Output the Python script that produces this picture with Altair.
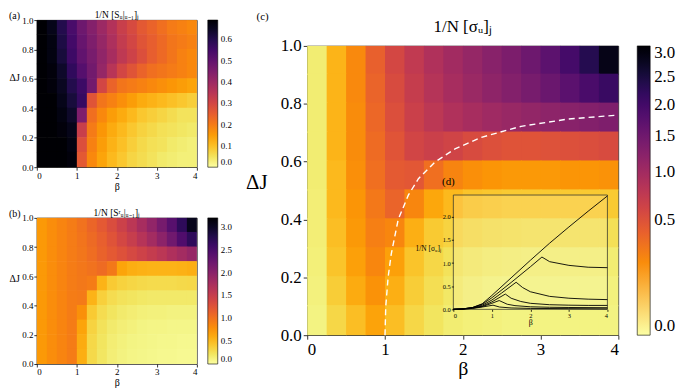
import altair as alt
import pandas as pd

FONT = "Liberation Serif"

# ---------------- data ----------------
BETA_EDGES = [0.0, 0.25, 0.5, 0.75, 1.0, 1.25, 1.5, 1.75, 2.0, 2.25, 2.5, 2.75, 3.0, 3.25, 3.5, 3.75, 4.0]
DJ_EDGES = [0.0, 0.1, 0.2, 0.3, 0.4, 0.5, 0.6, 0.7, 0.8, 0.9, 1.0]

# rows listed from top (ΔJ 0.9-1.0) to bottom (ΔJ 0.0-0.1)
S_A = [
    [0.69, 0.66, 0.60, 0.54, 0.48, 0.44, 0.40, 0.36, 0.32, 0.29, 0.26, 0.24, 0.22, 0.20, 0.19, 0.18],
    [0.69, 0.67, 0.61, 0.55, 0.49, 0.45, 0.41, 0.37, 0.33, 0.30, 0.27, 0.25, 0.23, 0.21, 0.20, 0.19],
    [0.69, 0.67, 0.62, 0.56, 0.50, 0.46, 0.42, 0.38, 0.34, 0.31, 0.28, 0.25, 0.23, 0.21, 0.19, 0.18],
    [0.69, 0.68, 0.64, 0.58, 0.52, 0.47, 0.41, 0.35, 0.30, 0.27, 0.24, 0.22, 0.21, 0.20, 0.19, 0.18],
    [0.69, 0.68, 0.65, 0.60, 0.56, 0.47, 0.30, 0.24, 0.21, 0.20, 0.19, 0.18, 0.17, 0.16, 0.15, 0.14],
    [0.69, 0.69, 0.66, 0.62, 0.57, 0.27, 0.21, 0.19, 0.17, 0.15, 0.13, 0.12, 0.11, 0.10, 0.09, 0.08],
    [0.69, 0.69, 0.67, 0.64, 0.45, 0.22, 0.18, 0.15, 0.13, 0.11, 0.09, 0.08, 0.07, 0.06, 0.05, 0.05],
    [0.69, 0.69, 0.68, 0.66, 0.32, 0.20, 0.16, 0.13, 0.11, 0.09, 0.075, 0.065, 0.055, 0.05, 0.045, 0.04],
    [0.69, 0.69, 0.69, 0.67, 0.28, 0.19, 0.15, 0.12, 0.10, 0.08, 0.065, 0.055, 0.05, 0.04, 0.035, 0.03],
    [0.69, 0.69, 0.69, 0.68, 0.26, 0.18, 0.14, 0.11, 0.09, 0.07, 0.06, 0.05, 0.04, 0.035, 0.03, 0.03],
]

S_B = [
    [0.72, 0.80, 0.86, 0.92, 1.00, 1.10, 1.20, 1.32, 1.45, 1.60, 1.76, 1.94, 2.15, 2.40, 2.70, 3.05],
    [0.72, 0.80, 0.86, 0.92, 0.98, 1.06, 1.15, 1.26, 1.38, 1.50, 1.64, 1.80, 1.98, 2.20, 2.45, 2.70],
    [0.72, 0.80, 0.86, 0.92, 0.97, 1.04, 1.12, 1.20, 1.28, 1.36, 1.44, 1.52, 1.60, 1.70, 1.80, 1.90],
    [0.72, 0.80, 0.86, 0.92, 0.96, 1.00, 1.05, 0.95, 0.65, 0.58, 0.56, 0.55, 0.55, 0.55, 0.56, 0.58],
    [0.72, 0.80, 0.86, 0.92, 0.95, 0.92, 0.55, 0.40, 0.35, 0.32, 0.30, 0.29, 0.29, 0.29, 0.30, 0.31],
    [0.72, 0.80, 0.86, 0.92, 0.94, 0.55, 0.36, 0.28, 0.24, 0.22, 0.20, 0.19, 0.19, 0.19, 0.19, 0.19],
    [0.72, 0.80, 0.86, 0.92, 0.78, 0.40, 0.28, 0.22, 0.18, 0.16, 0.14, 0.13, 0.13, 0.12, 0.12, 0.12],
    [0.72, 0.80, 0.86, 0.92, 0.65, 0.34, 0.24, 0.18, 0.15, 0.13, 0.11, 0.10, 0.10, 0.09, 0.09, 0.09],
    [0.72, 0.80, 0.86, 0.92, 0.60, 0.31, 0.22, 0.16, 0.13, 0.11, 0.10, 0.09, 0.08, 0.08, 0.07, 0.07],
    [0.72, 0.80, 0.86, 0.92, 0.58, 0.30, 0.21, 0.15, 0.12, 0.10, 0.09, 0.08, 0.07, 0.07, 0.06, 0.06],
]

SIGMA_C = [
    [0.008, 0.09, 0.21, 0.40, 0.58, 0.74, 0.88, 1.00, 1.12, 1.24, 1.36, 1.52, 1.70, 1.98, 2.35, 2.90],
    [0.008, 0.09, 0.21, 0.38, 0.55, 0.70, 0.84, 0.96, 1.07, 1.18, 1.29, 1.41, 1.55, 1.72, 1.92, 2.12],
    [0.008, 0.09, 0.20, 0.36, 0.52, 0.66, 0.78, 0.88, 0.96, 1.03, 1.09, 1.14, 1.19, 1.24, 1.29, 1.34],
    [0.008, 0.09, 0.20, 0.34, 0.48, 0.60, 0.66, 0.62, 0.55, 0.51, 0.49, 0.49, 0.50, 0.51, 0.53, 0.55],
    [0.008, 0.08, 0.19, 0.32, 0.44, 0.46, 0.32, 0.23, 0.19, 0.17, 0.16, 0.16, 0.16, 0.17, 0.17, 0.18],
    [0.007, 0.08, 0.17, 0.28, 0.38, 0.22, 0.12, 0.08, 0.06, 0.055, 0.05, 0.05, 0.05, 0.05, 0.05, 0.05],
    [0.007, 0.07, 0.16, 0.25, 0.22, 0.10, 0.05, 0.035, 0.028, 0.024, 0.022, 0.02, 0.02, 0.02, 0.02, 0.02],
    [0.006, 0.06, 0.14, 0.22, 0.14, 0.06, 0.03, 0.018, 0.013, 0.01, 0.009, 0.008, 0.008, 0.008, 0.008, 0.008],
    [0.005, 0.045, 0.11, 0.18, 0.10, 0.045, 0.022, 0.012, 0.008, 0.006, 0.005, 0.005, 0.005, 0.005, 0.005, 0.005],
    [0.004, 0.03, 0.07, 0.13, 0.07, 0.03, 0.015, 0.008, 0.006, 0.005, 0.004, 0.004, 0.004, 0.004, 0.004, 0.004],
]

# dashed transition line in (c)
BOUNDARY_BETA = [1.0, 1.01, 1.04, 1.08, 1.17, 1.30, 1.43, 1.64, 1.90, 2.24, 2.75, 3.35, 3.95]
BOUNDARY_DJ = [0.0, 0.10, 0.20, 0.28, 0.40, 0.484, 0.541, 0.598, 0.644, 0.684, 0.722, 0.747, 0.760]

# inset (d) curves
INSET_B1 = [0, 0.25, 0.5, 0.75, 1.0, 1.5, 2.0, 2.5, 3.0, 3.5, 4.0]
INSET_S1 = [0, 0.01, 0.04, 0.12, 0.30, 0.68, 1.06, 1.43, 1.78, 2.12, 2.45]
INSET_B2 = [0, 0.25, 0.5, 0.75, 1.0, 1.5, 2.0, 2.3, 2.5, 3.0, 3.5, 4.0]
INSET_S2 = [0, 0.01, 0.04, 0.11, 0.25, 0.58, 0.92, 1.13, 1.03, 0.95, 0.91, 0.90]
INSET_B3 = [0, 0.25, 0.5, 0.75, 1.0, 1.25, 1.63, 1.8, 2.0, 2.5, 3.0, 3.5, 4.0]
INSET_S3 = [0, 0.01, 0.035, 0.09, 0.20, 0.35, 0.585, 0.47, 0.38, 0.28, 0.24, 0.22, 0.21]
INSET_B4 = [0, 0.25, 0.5, 0.75, 1.0, 1.35, 1.5, 1.75, 2.0, 2.5, 3.0, 3.5, 4.0]
INSET_S4 = [0, 0.01, 0.03, 0.07, 0.16, 0.33, 0.24, 0.17, 0.13, 0.10, 0.09, 0.085, 0.085]
INSET_B5 = [0, 0.25, 0.5, 0.75, 1.0, 1.19, 1.4, 1.6, 2.0, 2.5, 3.0, 4.0]
INSET_S5 = [0, 0.005, 0.025, 0.06, 0.13, 0.19, 0.11, 0.08, 0.055, 0.045, 0.04, 0.035]
INSET_B6 = [0, 0.25, 0.5, 0.75, 1.03, 1.2, 1.5, 2.0, 3.0, 4.0]
INSET_S6 = [0, 0.004, 0.02, 0.05, 0.09, 0.05, 0.03, 0.02, 0.015, 0.01]

X_TICKS = [0, 1, 2, 3, 4]
Y_TICKS = [0.0, 0.2, 0.4, 0.6, 0.8, 1.0]
CB_A_TICKS = [0.0, 0.1, 0.2, 0.3, 0.4, 0.5, 0.6]
CB_B_TICKS = [0.0, 0.5, 1.0, 1.5, 2.0, 2.5, 3.0]
CB_C_TICKS = [0.0, 0.5, 1.0, 1.5, 2.0, 2.5, 3.0]
INSET_Y_TICKS = [0.0, 0.5, 1.0, 1.5, 2.0]

TITLE_A = "1/N [Sᵤ|ᵤ₋₁]ⱼ"
TITLE_B = "1/N [Sʳᵤ|ᵤ₋₁]ⱼ"
TITLE_C = "1/N [σᵤ]ⱼ"
TITLE_D = "1/N [σᵤ]ⱼ"

# tiny cell overlap (in data units) so neighbouring cells leave no anti-aliasing seams
PAD_B, PAD_J = 0.012, 0.004


# ---------------- helpers ----------------
def grid_df(rows):
    n = len(rows)
    recs = []
    for r, row in enumerate(rows):
        lo, hi = DJ_EDGES[n - 1 - r], DJ_EDGES[n - r]
        for c, v in enumerate(row):
            recs.append({"b0": BETA_EDGES[c], "b1": min(BETA_EDGES[c + 1] + PAD_B, 4.0),
                         "j0": lo, "j1": min(hi + PAD_J, 1.0), "v": v})
    return pd.DataFrame(recs)


def text_layer(txt, x, y, size, align="left", baseline="top"):
    return alt.Chart(pd.DataFrame({"t": [txt]})).mark_text(
        font=FONT, fontSize=size, align=align, baseline=baseline, color="black"
    ).encode(x=alt.value(x), y=alt.value(y), text="t:N")


XS = alt.Scale(domain=[0, 4], nice=False, zero=False)
YS = alt.Scale(domain=[0, 1], nice=False, zero=False)


def small_panel(rows, cscale, ticks, label, title, width, height, dj_y):
    xaxis = alt.Axis(title="β", values=X_TICKS, format="d", labelFontSize=9, titleFontSize=10,
                     tickSize=3, labelPadding=1, titlePadding=1)
    yaxis = alt.Axis(title="ΔJ", values=Y_TICKS, format=".1f", labelFontSize=9, titleFontSize=10,
                     tickSize=3, labelPadding=1, titleAngle=0, titleAlign="left",
                     titleBaseline="middle", titleX=-28, titleY=dj_y)
    legend = alt.Legend(title=None, orient="right", offset=11, gradientLength=height,
                        gradientThickness=10, values=ticks, format=".1f", labelFontSize=9,
                        labelOffset=3, gradientStrokeColor="black", gradientStrokeWidth=0.6,
                        labelOverlap=False, labelBaseline="middle", type="gradient")
    heat = alt.Chart(grid_df(rows)).mark_rect().encode(
        x=alt.X("b0:Q", scale=XS, axis=xaxis), x2="b1:Q",
        y=alt.Y("j0:Q", scale=YS, axis=yaxis), y2="j1:Q",
        color=alt.Color("v:Q", scale=cscale, legend=legend),
    )
    return alt.layer(
        heat,
        text_layer(label, -28, -9, 10),
        text_layer(title, width / 2, -5, 9.5, align="center", baseline="middle"),
    ).properties(width=width, height=height)


scale_a = alt.Scale(scheme="inferno", reverse=True, domain=[0, 0.69])
scale_b = alt.Scale(scheme="inferno", reverse=True, domain=[0, 3.2])
scale_c = alt.Scale(type="sqrt", scheme="inferno", reverse=True, domain=[0, 3.15])

panel_a = small_panel(S_A, scale_a, CB_A_TICKS, "(a)", TITLE_A, 161, 148, 58)
panel_b = small_panel(S_B, scale_b, CB_B_TICKS, "(b)", TITLE_B, 161, 147, 61)

# ---------------- panel (c) ----------------
CW, CH = 313, 291
c_xaxis = alt.Axis(title="β", values=X_TICKS, format="d", labelFontSize=17, titleFontSize=20,
                   tickSize=4, labelPadding=2, titlePadding=2)
c_yaxis = alt.Axis(title="ΔJ", values=Y_TICKS, format=".1f", labelFontSize=17, titleFontSize=21,
                   tickSize=4, labelPadding=2, titleAngle=0, titleAlign="left",
                   titleBaseline="middle", titleX=-62, titleY=137)
c_legend = alt.Legend(title=None, orient="right", offset=19, gradientLength=CH,
                      gradientThickness=13, values=CB_C_TICKS, format=".1f", labelFontSize=17,
                      labelOffset=4, gradientStrokeColor="black", gradientStrokeWidth=0.6,
                      labelOverlap=False, labelBaseline="middle", type="gradient")

heat_c = alt.Chart(grid_df(SIGMA_C)).mark_rect().encode(
    x=alt.X("b0:Q", scale=XS, axis=c_xaxis), x2="b1:Q",
    y=alt.Y("j0:Q", scale=YS, axis=c_yaxis), y2="j1:Q",
    color=alt.Color("v:Q", scale=scale_c, legend=c_legend),
)
boundary = alt.Chart(pd.DataFrame({"b": BOUNDARY_BETA, "j": BOUNDARY_DJ})).mark_line(
    color="white", strokeDash=[6, 4], strokeWidth=1.4
).encode(
    x=alt.X("b:Q", scale=XS, axis=c_xaxis),
    y=alt.Y("j:Q", scale=YS, axis=c_yaxis),
    order=alt.Order("b:Q"),
)

main_c = alt.layer(
    heat_c,
    boundary,
    text_layer("(c)", -51, -35, 11),
    text_layer(TITLE_C, CW / 2, -19, 17, align="center", baseline="middle"),
    text_layer("(d)", 142, 137, 11, align="center", baseline="middle"),
)

# inset
IX = alt.Scale(domain=[0, 4], range=[147, 302], nice=False, zero=False)
IY = alt.Scale(domain=[0, 2.47], range=[265, 150], nice=False, zero=False)
i_xaxis = alt.Axis(orient="bottom", offset=-26, title="β", values=X_TICKS, format="d",
                   labelFontSize=6.5, titleFontSize=8, tickSize=2, labelPadding=1, titlePadding=0,
                   zindex=2)
i_yaxis = alt.Axis(orient="left", offset=-147, title=TITLE_D, values=INSET_Y_TICKS, format=".1f",
                   labelFontSize=6.5, titleFontSize=7.5, tickSize=2, labelPadding=1,
                   titleAngle=0, titleAlign="right", titleBaseline="middle", titleX=-13, titleY=204,
                   zindex=2)

inset_recs = []
for k, (bs, ss) in enumerate([(INSET_B1, INSET_S1), (INSET_B2, INSET_S2), (INSET_B3, INSET_S3),
                              (INSET_B4, INSET_S4), (INSET_B5, INSET_S5), (INSET_B6, INSET_S6)]):
    for i, (bv, sv) in enumerate(zip(bs, ss)):
        inset_recs.append({"ib": bv, "isg": sv, "series": k, "o": i})
inset_df = pd.DataFrame(inset_recs)

frame = alt.Chart(pd.DataFrame({"x0": [0], "x1": [4], "y0": [0], "y1": [2.47]})).mark_rect(
    fill="white", fillOpacity=0.15, stroke="#3b3b2e", strokeWidth=0.8
).encode(
    x=alt.X("x0:Q", scale=IX, axis=i_xaxis), x2="x1:Q",
    y=alt.Y("y0:Q", scale=IY, axis=i_yaxis), y2="y1:Q",
)
inset_lines = alt.Chart(inset_df).mark_line(color="black", strokeWidth=0.9).encode(
    x=alt.X("ib:Q", scale=IX, axis=i_xaxis),
    y=alt.Y("isg:Q", scale=IY, axis=i_yaxis),
    detail="series:N",
    order=alt.Order("o:Q"),
)
inset = alt.layer(frame, inset_lines)

panel_c = alt.layer(main_c, inset).resolve_scale(x="independent", y="independent").properties(
    width=CW, height=CH
)

spacer = alt.Chart(pd.DataFrame({"s": [0]})).mark_point(opacity=0).encode(
    x=alt.value(0), y=alt.value(0)
).properties(width=CW, height=1, view=alt.ViewBackground(stroke=None))

left = alt.vconcat(panel_a, panel_b, spacing=51, bounds="flush").resolve_scale(color="independent")
right = alt.vconcat(spacer, panel_c, spacing=25, bounds="flush").resolve_scale(color="independent")
chart = alt.hconcat(left, right, spacing=11).resolve_scale(
    color="independent"
).properties(padding=0, background="white")
chart = chart.configure_view(stroke="black", strokeWidth=0.8).configure_axis(
    grid=False, domain=False, tickColor="black", tickWidth=0.8, labelColor="black",
    titleColor="black", labelFont=FONT, titleFont=FONT, titleFontWeight="normal"
).configure_legend(labelFont=FONT, labelColor="black")

chart.save("out.html", embed_options={"renderer": "svg", "actions": False})
